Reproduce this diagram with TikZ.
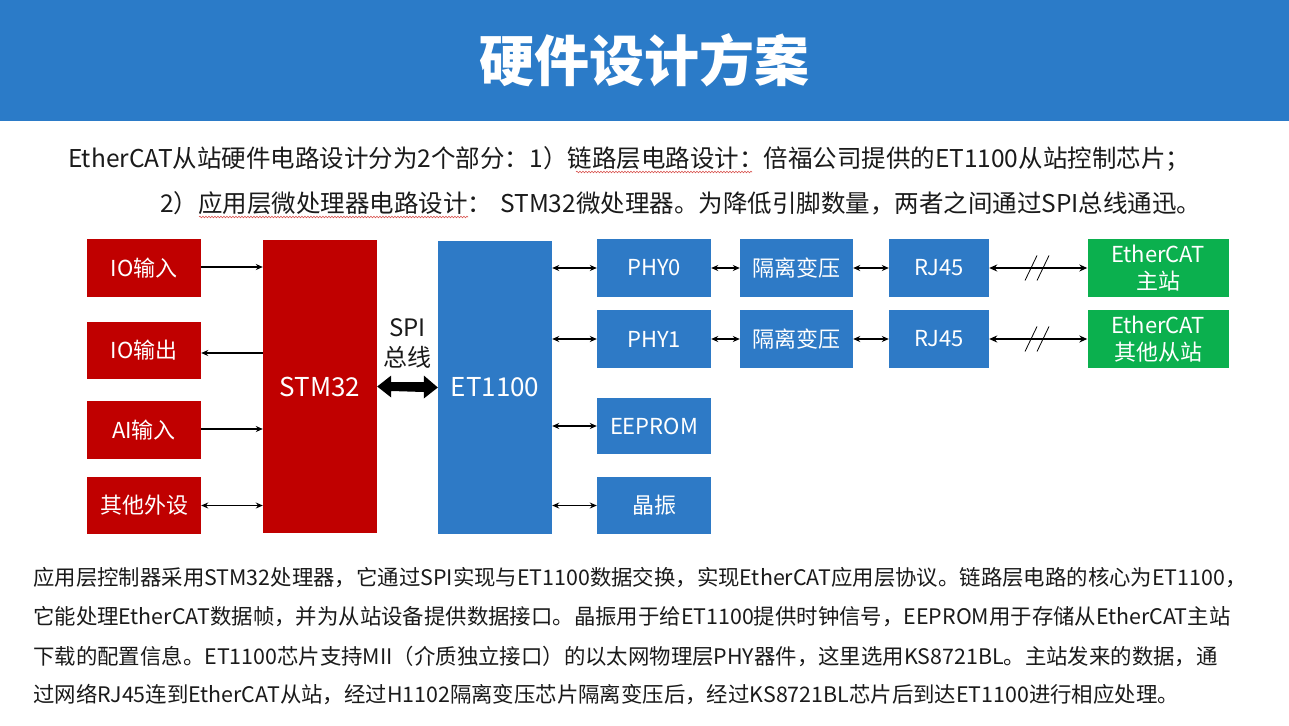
\documentclass[tikz,border=0pt]{standalone}
\usepackage{fontspec}
\setmainfont{Noto Sans CJK SC}
\usetikzlibrary{arrows.meta,calc,decorations.pathmorphing}
\definecolor{hdrblue}{HTML}{2B7BC8}
\definecolor{boxblue}{HTML}{2E7AC6}
\definecolor{boxred}{HTML}{C00000}
\definecolor{boxgreen}{HTML}{0BB04E}
\definecolor{txt}{HTML}{1A1A1A}
\definecolor{spellred}{HTML}{D9534F}
\begin{document}
\begin{tikzpicture}[x=1pt,y=-1pt,
  box/.style={draw=none, inner sep=0pt, text=white, align=center,
    font=\fontsize{22}{27}\selectfont},
  redbox/.style={box, fill=boxred},
  bluebox/.style={box, fill=boxblue},
  greenbox/.style={box, fill=boxgreen},
  arr/.style={line width=1.2pt, -{Stealth[length=7pt,width=6pt]}},
  darr/.style={line width=1.2pt, {Stealth[length=7pt,width=6pt]}-{Stealth[length=7pt,width=6pt]}},
  netarr/.style={line width=2pt, {Stealth[length=8pt,width=7pt]}-{Stealth[length=8pt,width=7pt]}},
  para/.style={anchor=base west, inner sep=0pt, text=txt},
  spell/.style={draw=spellred, line width=0.6pt, decorate,
    decoration={snake, amplitude=0.8pt, segment length=3pt}}
]
\useasboundingbox (0,0) rectangle (1289,725);
\fill[white] (0,0) rectangle (1289,725);
% header
\fill[hdrblue] (0,0) rectangle (1289,121);
\node[text=white, font=\fontsize{55}{60}\selectfont\bfseries] (title) at (644,60) {硬件设计方案};

% intro text
\node[para, font=\fontsize{24.5}{28}\selectfont] (l1) at (68,167)
  {EtherCAT从站硬件电路设计分为2个部分：1）链路层电路设计：倍福公司提供的ET1100从站控制芯片；};
\node[para, font=\fontsize{24.5}{28}\selectfont] (l2) at (160,212)
  {2）应用层微处理器电路设计：\hspace{8pt}STM32微处理器。为降低引脚数量，两者之间通过SPI总线通迅。};
\draw[spell] (576,172) -- (752,172);
\draw[spell] (199,217) -- (468,217);

% left red boxes
\node[redbox, minimum width=114pt, minimum height=58pt] (io1) at (144,268) {IO输入};
\node[redbox, minimum width=114pt, minimum height=57pt] (io2) at (144,350.5) {IO输出};
\node[redbox, minimum width=114pt, minimum height=58pt] (ai) at (144,430) {AI输入};
\node[redbox, minimum width=114pt, minimum height=57pt] (oth) at (144,505.5) {其他外设};
\node[redbox, minimum width=114pt, minimum height=293pt, font=\fontsize{26}{30}\selectfont] (stm) at (320,386.5) {STM32};
\node[bluebox, minimum width=114pt, minimum height=293pt, font=\fontsize{26}{30}\selectfont] (et) at (495,387.5) {ET1100};

% right blue boxes
\node[bluebox, minimum width=114pt, minimum height=58pt] (phy0) at (654,268) {PHY0};
\node[bluebox, minimum width=114pt, minimum height=58pt] (phy1) at (654,339) {PHY1};
\node[bluebox, minimum width=113pt, minimum height=58pt] (iso0) at (796.5,268) {隔离变压};
\node[bluebox, minimum width=113pt, minimum height=58pt] (iso1) at (796.5,339) {隔离变压};
\node[bluebox, minimum width=100pt, minimum height=58pt] (rj0) at (939,268) {RJ45};
\node[bluebox, minimum width=100pt, minimum height=58pt] (rj1) at (939,339) {RJ45};
\node[greenbox, minimum width=141pt, minimum height=58pt] (m0) at (1158,268) {EtherCAT\\主站};
\node[greenbox, minimum width=141pt, minimum height=58pt] (m1) at (1158,339) {EtherCAT\\其他从站};
\node[bluebox, minimum width=114pt, minimum height=56pt] (eep) at (654,426) {EEPROM};
\node[bluebox, minimum width=114pt, minimum height=57pt] (xtal) at (654,505.5) {晶振};

% left connectors
\draw[arr] ($(io1.east)+(0,-1)$) -- ($(io1.east -| stm.west)+(0,-1)$);
\draw[arr] ($(stm.west |- io2.east)+(0,2.5)$) -- ($(io2.east)+(0,2.5)$);
\draw[arr] ($(ai.east)+(0,-1)$) -- ($(ai.east -| stm.west)+(0,-1)$);
\draw[darr] (oth.east) -- (oth.east -| stm.west);

% SPI bus
\fill (stm.east) -- ++(14,-11) -- ++(0,6.5) -- ($(et.west)+(-14,-5.5)$) -- ++(0,-6.5)
  -- ($(et.west)+(0,0)$) -- ++(-14,11) -- ++(0,-6.5) -- ($(stm.east)+(14,4.5)$) -- ++(0,6.5) -- cycle;
\node[align=center, text=txt, font=\fontsize{24}{30}\selectfont] (spi) at (407.5,343) {SPI\\总线};

% right connectors
\draw[darr] (et.east |- phy0.west) -- (phy0.west);
\draw[darr] (et.east |- phy1.west) -- (phy1.west);
\draw[darr] (et.east |- eep.west) -- (eep.west);
\draw[darr] (et.east |- xtal.west) -- (xtal.west);
\draw[darr] (phy0.east) -- (iso0.west);
\draw[darr] (phy1.east) -- (iso1.west);
\draw[darr] (iso0.east) -- (rj0.west);
\draw[darr] (iso1.east) -- (rj1.west);
\draw[netarr] (rj0.east) -- (m0.west);
\draw[netarr] (rj1.east) -- (m1.west);
\coordinate (s0) at (1037,268);
\coordinate (s1) at (1037,339);
\foreach \c in {s0,s1}{
  \draw[line width=0.8pt] ($(\c)+(-12,12.5)$) -- ($(\c)+(0,-12.5)$);
  \draw[line width=0.8pt] ($(\c)+(0,12.5)$) -- ($(\c)+(12,-12.5)$);
}

% bottom text
\begin{scope}[every node/.style={para, font=\fontsize{21.4}{24}\selectfont}]
\node (b1) at (33,585) {应用层控制器采用STM32处理器，它通过SPI实现与ET1100数据交换，实现EtherCAT应用层协议。链路层电路的核心为ET1100，};
\node (b2) at (33,624) {它能处理EtherCAT数据帧，并为从站设备提供数据接口。晶振用于给ET1100提供时钟信号，EEPROM用于存储从EtherCAT主站};
\node (b3) at (33,664) {下载的配置信息。ET1100芯片支持MII（介质独立接口）的以太网物理层PHY器件，这里选用KS8721BL。主站发来的数据，通};
\node (b4) at (33,702) {过网络RJ45连到EtherCAT从站，经过H1102隔离变压芯片隔离变压后，经过KS8721BL芯片后到达ET1100进行相应处理。};
\end{scope}
\end{tikzpicture}
\end{document}
